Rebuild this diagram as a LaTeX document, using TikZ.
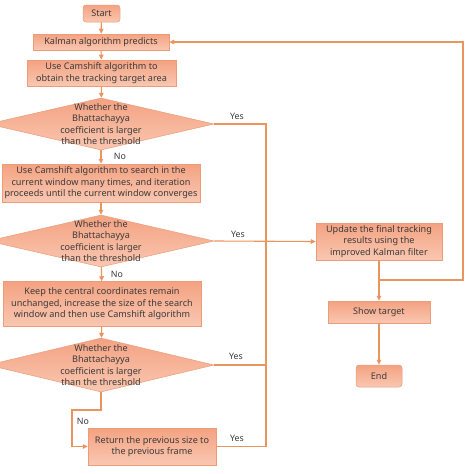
\documentclass[tikz,border=0pt]{standalone}
\usepackage{fontspec}
\setmainfont{Noto Sans}
\usetikzlibrary{shapes.geometric,arrows.meta}
\definecolor{ln}{HTML}{EB955E}
\definecolor{bd}{HTML}{EC9C78}
\definecolor{ftop}{HTML}{F4A282}
\definecolor{fbot}{HTML}{F9C7B1}
\definecolor{tx}{HTML}{3A3A3A}
\begin{document}
\begin{tikzpicture}[x=1pt,y=-1pt,
  box/.style={draw=bd,line width=0.5pt,top color=ftop,bottom color=fbot,inner sep=0pt,
     text=tx,font=\fontsize{9.1}{11.4}\selectfont,align=center},
  rbox/.style={box,rounded corners=3pt},
  dia/.style={diamond,draw=bd,line width=0.5pt,top color=ftop,bottom color=fbot,inner sep=0pt},
  dtext/.style={text=tx,font=\fontsize{9.1}{11.4}\selectfont,align=center,inner sep=0pt},
  lbl/.style={text=tx,font=\fontsize{8.8}{9}\selectfont,inner sep=0pt},
  con/.style={draw=ln,line width=1.1pt},
  arr/.style={con,-{Triangle[length=5pt,width=4.6pt]}}]
\clip (0,0) rectangle (474,474);
\useasboundingbox (0,0) rectangle (474,474);
\fill[white] (0,0) rectangle (474,474);
% nodes
\node[rbox,minimum width=37pt,minimum height=17pt] (start) at (101.5,13.5) {Start};
\node[box,minimum width=136pt,minimum height=16pt] (kal) at (101,42) {Kalman algorithm predicts};
\node[box,minimum width=149pt,minimum height=26pt] (cam) at (101.5,73) {Use Camshift algorithm to\\obtain the tracking target area};
\node[dia,minimum width=226pt,minimum height=52pt] (d1) at (101,124) {};
\node[dtext] (t1) at (d1.center) {Whether the\\Bhattachayya\\coefficient is larger\\than the threshold};
\node[box,minimum width=198pt,minimum height=38pt] (srch) at (101,183) {Use Camshift algorithm to search in the\\current window many times, and iteration\\proceeds until the current window converges};
\node[dia,minimum width=226pt,minimum height=52pt] (d2) at (101,241) {};
\node[dtext] (t2) at (d2.center) {Whether the\\Bhattachayya\\coefficient is larger\\than the threshold};
\node[box,minimum width=198pt,minimum height=45pt] (keep) at (102,304) {Keep the central coordinates remain\\unchanged, increase the size of the search\\window and then use Camshift algorithm};
\node[dia,minimum width=226pt,minimum height=54pt] (d3) at (101,365) {};
\node[dtext] (t3) at (d3.center) {Whether the\\Bhattachayya\\coefficient is larger\\than the threshold};
\node[box,minimum width=128pt,minimum height=37pt] (ret) at (152,446.5) {Return the previous size to\\the previous frame};
\node[box,minimum width=126pt,minimum height=37pt] (upd) at (379,241.5) {Update the final tracking\\results using the\\improved Kalman filter};
\node[box,minimum width=102pt,minimum height=22pt] (show) at (379,312) {Show target};
\node[rbox,minimum width=46pt,minimum height=22pt] (end) at (379,376) {End};
% coordinates
\coordinate (j1) at (266,124);
\coordinate (j3) at (266,365);
\coordinate (j4) at (266,446.5);
\coordinate (n1) at (101,410);
\coordinate (n2) at (72,410);
\coordinate (n3) at (72,446.5);
\coordinate (b1) at (379,280);
\coordinate (b2) at (463,280);
\coordinate (b3) at (463,42);
% connectors
\draw[arr] (start) -- (kal);
\draw[arr] (kal) -- (cam);
\draw[arr] (cam) -- (d1);
\draw[arr] (d1) -- (srch);
\draw[arr] (srch) -- (d2);
\draw[arr] (d2) -- (keep);
\draw[arr] (keep) -- (d3);
\draw[arr] (d3.south) -- (n1) -- (n2) -- (n3) -- (ret.west);
\draw[con] (d1.east) -- (j1) -- (j4) -- (ret.east);
\draw[con] (d3.east) -- (j3);
\draw[arr] (d2.east) -- (upd.west);
\draw[arr] (upd) -- (show);
\draw[arr] (show) -- (end);
\draw[arr] (b1) -- (b2) -- (b3) -- (kal.east);
% labels
\node[lbl] (y1) at (237,116) {Yes};
\node[lbl] (y2) at (238,234) {Yes};
\node[lbl] (y3) at (236,356) {Yes};
\node[lbl] (y4) at (237,438) {Yes};
\node[lbl] (no1) at (120,156) {No};
\node[lbl] (no2) at (117,274) {No};
\node[lbl] (no3) at (83,421) {No};
\end{tikzpicture}
\end{document}
